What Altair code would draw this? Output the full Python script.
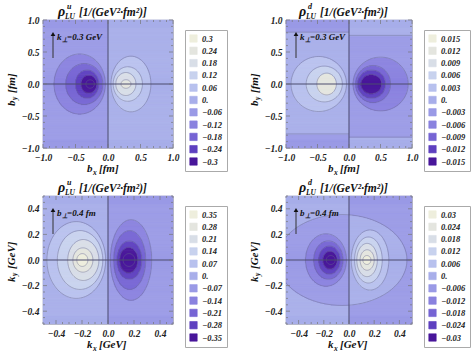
import altair as alt
import numpy as np
import pandas as pd

SERIF = "Liberation Serif"
PALETTE = ["#eeeedd", "#e4e5df", "#d8dee7", "#c8d2ee", "#b8c1ee", "#a8aeea",
           "#9a9ae6", "#8a82df", "#7664d4", "#5e40c0", "#48169a"]

LAB_UB = ["0.3", "0.24", "0.18", "0.12", "0.06", "0.", "−0.06", "−0.12", "−0.18", "−0.24", "−0.3"]
LAB_DB = ["0.015", "0.012", "0.009", "0.006", "0.003", "0.", "−0.003", "−0.006", "−0.009", "−0.012", "−0.015"]
LAB_UK = ["0.35", "0.28", "0.21", "0.14", "0.07", "0.", "−0.07", "−0.14", "−0.21", "−0.28", "−0.35"]
LAB_DK = ["0.03", "0.024", "0.018", "0.012", "0.006", "0.", "−0.006", "−0.012", "−0.018", "−0.024", "−0.03"]

TICKS_B = [-1.0, -0.5, 0.0, 0.5, 1.0]
TICKS_K = [-0.4, -0.2, 0.0, 0.2, 0.4]
MINOR_B = [-0.9, -0.8, -0.7, -0.6, -0.4, -0.3, -0.2, -0.1, 0.1, 0.2, 0.3, 0.4, 0.6, 0.7, 0.8, 0.9]
MINOR_K = [-0.5, -0.45, -0.35, -0.3, -0.25, -0.15, -0.1, -0.05,
           0.05, 0.1, 0.15, 0.25, 0.3, 0.35, 0.45, 0.5]

# contour regions: left edge, right edge, half height, band index
P1_L = [-0.83, -0.65, -0.50, -0.415, -0.34, 0.046, 0.08, 0.12, 0.20]
P1_R = [-0.04, -0.08, -0.14, -0.17, -0.21, 0.66, 0.53, 0.43, 0.354]
P1_H = [0.47, 0.32, 0.22, 0.14, 0.065, 0.435, 0.27, 0.18, 0.067]
P1_B = [7, 8, 9, 10, 10, 4, 3, 2, 1]

P2_L = [-0.92, -0.68, -0.51, 0.064, 0.106, 0.14, 0.19]
P2_R = [-0.04, -0.106, -0.20, 0.94, 0.66, 0.58, 0.52]
P2_H = [0.43, 0.28, 0.17, 0.42, 0.29, 0.22, 0.15]
P2_B = [4, 3, 1, 7, 8, 9, 10]
P2_STRIP_TOP = [0.81, 0.76]      # left, right
P2_STRIP_BOT = [-0.78, -0.83]    # left, right

P3_L = [-0.47, -0.39, -0.31, -0.27, -0.24, 0.018, 0.044, 0.07, 0.09, 0.116]
P3_R = [-0.018, -0.04, -0.07, -0.116, -0.155, 0.336, 0.29, 0.26, 0.23, 0.207]
P3_H = [0.30, 0.23, 0.16, 0.095, 0.05, 0.315, 0.23, 0.15, 0.10, 0.05]
P3_B = [4, 3, 2, 1, 0, 7, 8, 9, 10, 10]

P4_BIG = [-0.57, 0.46, 0.355]     # left, right, half height
P4_L = [-0.345, -0.28, -0.24, -0.207, -0.18, 0.018, 0.044, 0.062, 0.088, 0.11]
P4_R = [-0.02, -0.047, -0.07, -0.093, -0.11, 0.316, 0.264, 0.225, 0.20, 0.174]
P4_H = [0.205, 0.15, 0.11, 0.07, 0.035, 0.235, 0.18, 0.13, 0.08, 0.035]
P4_B = [7, 8, 9, 10, 10, 4, 3, 2, 1, 0]


def grid(lim, nx=170, ny=130):
    xe = np.linspace(-lim, lim, nx + 1)
    ye = np.linspace(-lim, lim, ny + 1)
    X, Y = np.meshgrid((xe[:-1] + xe[1:]) / 2, (ye[:-1] + ye[1:]) / 2)
    return xe, ye, X, Y


def inside(X, Y, l, r, h):
    cx, rx = (l + r) / 2, (r - l) / 2
    return ((X - cx) / rx) ** 2 + (Y / h) ** 2 <= 1


def runs(band, xe, ye, labels):
    rows = []
    ny, nx = band.shape
    for j in range(ny):
        row = band[j]
        s = 0
        for i in range(1, nx + 1):
            if i == nx or row[i] != row[s]:
                rows.append(dict(x=xe[s], x2=xe[i], y=ye[j], y2=ye[j + 1],
                                 lab=labels[int(row[s])]))
                s = i
    return pd.DataFrame(rows)


def outlines(L, R, H, lim, extra=None):
    rows = []
    t = np.linspace(0, 2 * np.pi, 81)
    k = 0
    for l, r, h in zip(L, R, H):
        cx, rx = (l + r) / 2, (r - l) / 2
        for o, a in enumerate(t):
            rows.append(dict(x=cx + rx * np.cos(a), y=h * np.sin(a), id=k, o=o))
        k += 1
    if extra:
        for seg in extra:
            for o, (x, y) in enumerate(seg):
                rows.append(dict(x=x, y=y, id=k, o=o))
            k += 1
    return pd.DataFrame(rows)


def txt(s, x, y, size, align="left", baseline="alphabetic", angle=0, weight="bold", style="italic"):
    return alt.Chart(pd.DataFrame({"t": [s]})).mark_text(
        font=SERIF, fontSize=size, fontWeight=weight, fontStyle=style, color="#111",
        align=align, baseline=baseline, angle=angle
    ).encode(x=alt.value(x), y=alt.value(y), text="t:N")


def panel(df, ol, lim, ticks, minor, labels, W, H, sup, var, unit, annot_var, annot_val):
    xs = alt.Scale(domain=[-lim, lim], nice=False, zero=False)
    ys = alt.Scale(domain=[-lim, lim], nice=False, zero=False)
    ax = dict(values=ticks, format=".1f", title=None, ticks=False, domain=False, grid=False,
              labelFont=SERIF, labelFontStyle="italic", labelFontWeight="bold",
              labelFontSize=9.5, labelColor="#222", labelFlush=False, labelPadding=4,
              labelOverlap=False)
    X_ = lambda f: alt.X(f, scale=xs, axis=alt.Axis(**ax))
    Y_ = lambda f: alt.Y(f, scale=ys, axis=alt.Axis(**ax))
    fscale = alt.Scale(domain=labels, range=PALETTE)
    rect = alt.Chart(df).mark_rect(strokeWidth=0.6).encode(
        x=X_("x:Q"), x2="x2:Q", y=Y_("y:Q"), y2="y2:Q",
        fill=alt.Fill("lab:N", scale=fscale, legend=alt.Legend(
            title=None, orient="none", legendX=W + 12, legendY=10,
            symbolType="square", symbolSize=55, symbolStrokeColor="#888",
            symbolStrokeWidth=0.6, symbolOpacity=1,
            labelFont=SERIF, labelFontStyle="italic", labelFontWeight="bold",
            labelFontSize=8.5, labelColor="#222", rowPadding=1.3, padding=4,
            strokeColor="#aaa", fillColor="white")),
        stroke=alt.Stroke("lab:N", scale=fscale, legend=None),
    )
    lines = alt.Chart(ol).mark_line(color="#6a6a90", strokeWidth=0.6, opacity=0.75, clip=True).encode(
        x=X_("x:Q"), y=Y_("y:Q"), detail="id:N", order="o:Q")
    zero = pd.DataFrame({"v": [0.0]})
    vr = alt.Chart(zero).mark_rule(color="#4d4d6e", strokeWidth=1).encode(x=X_("v:Q"))
    hr = alt.Chart(zero).mark_rule(color="#4d4d6e", strokeWidth=1).encode(y=Y_("v:Q"))
    maj = pd.DataFrame({"v": ticks})
    mnr = pd.DataFrame({"v": minor})
    tk = []
    for d, ln in ((maj, 4), (mnr, 2)):
        tk += [
            alt.Chart(d).mark_rule(color="#777", strokeWidth=0.7).encode(
                x=X_("v:Q"), y=alt.value(H), y2=alt.value(H - ln)),
            alt.Chart(d).mark_rule(color="#777", strokeWidth=0.7).encode(
                x=X_("v:Q"), y=alt.value(0), y2=alt.value(ln)),
            alt.Chart(d).mark_rule(color="#777", strokeWidth=0.7).encode(
                y=Y_("v:Q"), x=alt.value(0), x2=alt.value(ln)),
            alt.Chart(d).mark_rule(color="#777", strokeWidth=0.7).encode(
                y=Y_("v:Q"), x=alt.value(W), x2=alt.value(W - ln)),
        ]
    c = W / 2
    layers = [rect, lines, vr, hr] + tk + [
              # title
              txt("ρ", c - 50, -4, 14),
              txt(sup, c - 41, -11, 8),
              txt("LU", c - 43, -1, 7.5),
              txt("[1/(GeV²·fm²)]", c - 29, -4, 11.5),
              # x title
              txt(var, c - 21, H + 24, 11),
              txt("x", c - 15, H + 27, 7.5),
              txt(unit, c - 9, H + 24, 11),
              # y title (rotated)
              txt(var, -28, H / 2 + 22, 11, angle=270),
              txt("y", -26, H / 2 + 16, 7.5, angle=270),
              txt(unit, -28, H / 2 + 9, 11, angle=270),
              # annotation arrow
              alt.Chart(zero).mark_rule(color="#333", strokeWidth=1).encode(
                  x=alt.value(10), y=alt.value(14), y2=alt.value(38)),
              alt.Chart(zero).mark_point(shape="triangle-up", filled=True, color="#111",
                                         size=22, opacity=1).encode(
                  x=alt.value(10), y=alt.value(14)),
              txt(annot_var, 14, 20, 9),
              txt("⊥", 19, 22, 6.5),
              txt(annot_val, 24, 20, 9),
              ]
    return alt.layer(*layers).properties(width=W, height=H)


# panel 1
xe, ye, X, Y = grid(1.0)
b = np.where(X < 0, 6, 5)
for l, r, h, k in zip(P1_L, P1_R, P1_H, P1_B):
    b[inside(X, Y, l, r, h)] = k
df1 = runs(b, xe, ye, LAB_UB)
ol1 = outlines(P1_L, P1_R, P1_H, 1.0)

# panel 2
xe, ye, X, Y = grid(1.0)
b = np.where(X < 0, 5, 6)
b[(X < 0) & (Y > P2_STRIP_TOP[0])] = 6
b[(X >= 0) & (Y > P2_STRIP_TOP[1])] = 5
b[(X < 0) & (Y < P2_STRIP_BOT[0])] = 6
b[(X >= 0) & (Y < P2_STRIP_BOT[1])] = 5
for l, r, h, k in zip(P2_L, P2_R, P2_H, P2_B):
    b[inside(X, Y, l, r, h)] = k
df2 = runs(b, xe, ye, LAB_DB)
ol2 = outlines(P2_L, P2_R, P2_H, 1.0, extra=[
    [(-1.0, P2_STRIP_TOP[0]), (0.0, P2_STRIP_TOP[0])],
    [(0.0, P2_STRIP_TOP[1]), (1.0, P2_STRIP_TOP[1])],
    [(-1.0, P2_STRIP_BOT[0]), (0.0, P2_STRIP_BOT[0])],
    [(0.0, P2_STRIP_BOT[1]), (1.0, P2_STRIP_BOT[1])],
])

# panel 3
xe, ye, X, Y = grid(0.5)
b = np.where(X < 0, 5, 6)
for l, r, h, k in zip(P3_L, P3_R, P3_H, P3_B):
    b[inside(X, Y, l, r, h)] = k
df3 = runs(b, xe, ye, LAB_UK)
ol3 = outlines(P3_L, P3_R, P3_H, 0.5)

# panel 4
xe, ye, X, Y = grid(0.5)
b = np.where(X < 0, 5, 6)
big = inside(X, Y, *P4_BIG)
b[big & (X < 0)] = 6
b[big & (X >= 0)] = 5
for l, r, h, k in zip(P4_L, P4_R, P4_H, P4_B):
    b[inside(X, Y, l, r, h)] = k
df4 = runs(b, xe, ye, LAB_DK)
ol4 = outlines([P4_BIG[0]] + P4_L, [P4_BIG[1]] + P4_R, [P4_BIG[2]] + P4_H, 0.5)

p1 = panel(df1, ol1, 1.0, TICKS_B, MINOR_B, LAB_UB, 130, 128, "u", "b", "[fm]", "k", "=0.3 GeV")
p2 = panel(df2, ol2, 1.0, TICKS_B, MINOR_B, LAB_DB, 126, 128, "d", "b", "[fm]", "k", "=0.3 GeV")
p3 = panel(df3, ol3, 0.5, TICKS_K, MINOR_K, LAB_UK, 130, 128, "u", "k", "[GeV]", "b", "=0.4  fm")
p4 = panel(df4, ol4, 0.5, TICKS_K, MINOR_K, LAB_DK, 126, 128, "d", "k", "[GeV]", "b", "=0.4  fm")

res = dict(x="independent", y="independent", fill="independent", stroke="independent")
row1 = alt.hconcat(p1, p2, spacing=20).resolve_scale(**res)
row2 = alt.hconcat(p3, p4, spacing=20).resolve_scale(**res)
chart = alt.vconcat(row1, row2, spacing=1).resolve_scale(**res).properties(
    padding={"left": 5, "top": 2, "right": 2, "bottom": 0}, background="white"
).configure_view(stroke="#999", strokeWidth=0.8)

chart.save("out.html", embed_options={"renderer": "svg", "actions": False})
